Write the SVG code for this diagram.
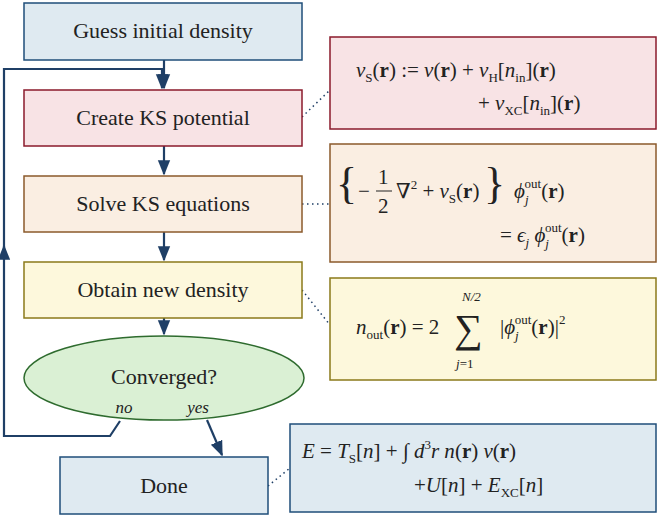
<svg xmlns="http://www.w3.org/2000/svg" width="660" height="516" viewBox="0 0 660 516">
<defs>
<marker id="ah" viewBox="0 0 10 10" refX="9" refY="5" markerWidth="7" markerHeight="7" orient="auto"><path d="M0,1 L10,5 L0,9 z" fill="#1f3f66"/></marker>
</defs>
<style>
text{font-family:"Liberation Serif","DejaVu Serif","Times New Roman",serif;font-size:22px;fill:#222}
.m{font-size:21px}
.i{font-style:italic}
.s{font-size:13px}
.c{stroke:#1f3f66;stroke-width:2.2;fill:none}
.d{stroke:#1f3f66;stroke-width:1.5;stroke-dasharray:1.5 3.5;fill:none}
.bl{fill:#dfeaf1;stroke:#1f4e79;stroke-width:1.5}
.rd{fill:#f8e3e5;stroke:#8b1a2b;stroke-width:1.5}
.or{fill:#faeee2;stroke:#8b5a2b;stroke-width:1.5}
.ye{fill:#fdf8dc;stroke:#8b7a1a;stroke-width:1.5}
.gr{fill:#daf0d4;stroke:#2e6b2e;stroke-width:1.5}
</style>
<g id="connectors">
<path class="c" d="M164,60 V88" marker-end="url(#ah)"/>
<path class="c" d="M164,146 V174" marker-end="url(#ah)"/>
<path class="c" d="M164,232 V260" marker-end="url(#ah)"/>
<path class="c" d="M164,318 V334" marker-end="url(#ah)"/>
<path class="c" d="M120,421 L110,436 H4 V69 H162 V88" marker-end="url(#ah)"/>
<path class="c" d="M4,260 V246" marker-end="url(#ah)"/>
<path class="c" d="M207,420 L222,455" marker-end="url(#ah)"/>
<path class="d" d="M302,117 L330,90"/>
<path class="d" d="M302,204 H330"/>
<path class="d" d="M302,290 L330,325"/>
<path class="d" d="M268,486 L290,468"/>
</g>
<g id="guess"><rect class="bl" x="24" y="3" width="278" height="57"/><text x="163" y="38" text-anchor="middle">Guess initial density</text></g>
<g id="create"><rect class="rd" x="24" y="90" width="278" height="56"/><text x="163" y="125" text-anchor="middle">Create KS potential</text></g>
<g id="solve"><rect class="or" x="24" y="176" width="278" height="56"/><text x="163" y="211" text-anchor="middle">Solve KS equations</text></g>
<g id="obtain"><rect class="ye" x="24" y="262" width="278" height="56"/><text x="163" y="297" text-anchor="middle">Obtain new density</text></g>
<g id="converged"><ellipse class="gr" cx="164" cy="378" rx="140" ry="42"/><text x="164" y="384" text-anchor="middle">Converged?</text><text x="124" y="413" text-anchor="middle" class="i" style="font-size:17px">no</text><text x="198" y="413" text-anchor="middle" class="i" style="font-size:17px">yes</text></g>
<g id="done"><rect class="bl" x="60" y="457" width="208" height="57"/><text x="164" y="493" text-anchor="middle">Done</text></g>
<g id="eq1"><rect class="rd" x="330" y="37" width="326" height="92"/>
<text class="m" x="356" y="77"><tspan class="i">v</tspan><tspan class="s" dy="5">S</tspan><tspan dy="-5">(<tspan font-weight="bold">r</tspan>) := </tspan><tspan class="i">v</tspan>(<tspan font-weight="bold">r</tspan>) + <tspan class="i">v</tspan><tspan class="s" dy="5">H</tspan><tspan dy="-5">[</tspan><tspan class="i">n</tspan><tspan class="s" dy="5">in</tspan><tspan dy="-5">](</tspan><tspan font-weight="bold">r</tspan>)</text>
<text class="m" x="478" y="110">+ <tspan class="i">v</tspan><tspan class="s" dy="5">XC</tspan><tspan dy="-5">[</tspan><tspan class="i">n</tspan><tspan class="s" dy="5">in</tspan><tspan dy="-5">](</tspan><tspan font-weight="bold">r</tspan>)</text></g>
<g id="eq2"><rect class="or" x="330" y="144" width="326" height="118"/>
<text x="336" y="198" style="font-size:44px">{</text>
<text class="m" x="358" y="198">−</text>
<text class="m" x="378" y="184">1</text><path d="M376,191 H392" stroke="#222" stroke-width="1"/><text class="m" x="378" y="213">2</text>
<text class="m" x="396" y="198">∇<tspan class="s" dy="-9">2</tspan><tspan dy="9"> + </tspan><tspan class="i">v</tspan><tspan class="s" dy="5">S</tspan><tspan dy="-5">(</tspan><tspan font-weight="bold">r</tspan>)</text>
<text x="484" y="198" style="font-size:44px">}</text>
<text class="m" x="514" y="198"><tspan class="i">ϕ</tspan><tspan class="s i" dy="6">j</tspan><tspan class="s" dx="-4" dy="-16">out</tspan><tspan dy="10">(</tspan><tspan font-weight="bold">r</tspan>)</text>
<text class="m" x="500" y="242">= <tspan class="i">ϵ</tspan><tspan class="s i" dy="5">j</tspan><tspan dy="-5"> </tspan><tspan class="i">ϕ</tspan><tspan class="s i" dy="6">j</tspan><tspan class="s" dx="-4" dy="-16">out</tspan><tspan dy="10">(</tspan><tspan font-weight="bold">r</tspan>)</text></g>
<g id="eq3"><rect class="ye" x="330" y="278" width="326" height="102"/>
<text class="m" x="356" y="334"><tspan class="i">n</tspan><tspan class="s" dy="5">out</tspan><tspan dy="-5">(</tspan><tspan font-weight="bold">r</tspan>) = 2</text>
<text x="454" y="342" style="font-size:40px">∑</text>
<text class="s i" x="462" y="301">N/2</text><text class="s" x="456" y="368"><tspan class="i">j</tspan>=1</text>
<text class="m" x="500" y="334">|<tspan class="i">ϕ</tspan><tspan class="s i" dy="6">j</tspan><tspan class="s" dx="-4" dy="-16">out</tspan><tspan dy="10">(</tspan><tspan font-weight="bold">r</tspan>)|<tspan class="s" dy="-10">2</tspan></text></g>
<g id="eq4"><rect class="bl" x="290" y="424" width="366" height="88"/>
<text class="m" x="302" y="458"><tspan class="i">E</tspan> = <tspan class="i">T</tspan><tspan class="s" dy="5">S</tspan><tspan dy="-5">[</tspan><tspan class="i">n</tspan>] + ∫ <tspan class="i">d</tspan><tspan class="s" dy="-9">3</tspan><tspan class="i" dy="9">r n</tspan>(<tspan font-weight="bold">r</tspan>) <tspan class="i">v</tspan>(<tspan font-weight="bold">r</tspan>)</text>
<text class="m" x="414" y="492">+<tspan class="i">U</tspan>[<tspan class="i">n</tspan>] + <tspan class="i">E</tspan><tspan class="s" dy="5">XC</tspan><tspan dy="-5">[</tspan><tspan class="i">n</tspan>]</text></g>
</svg>
